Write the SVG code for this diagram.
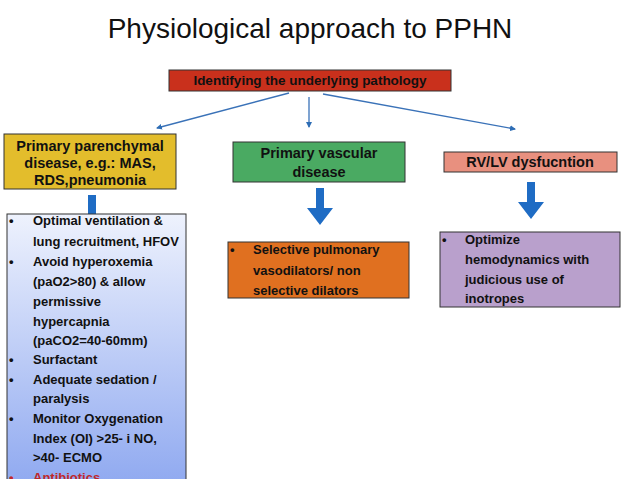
<svg xmlns="http://www.w3.org/2000/svg" width="638" height="479" viewBox="0 0 638 479">
<defs>
<linearGradient id="g" x1="0" y1="0" x2="0" y2="1"><stop offset="0" stop-color="#eef2fd"/><stop offset="1" stop-color="#8ea8f0"/></linearGradient>
<marker id="m" markerWidth="6" markerHeight="6" refX="5" refY="3" orient="auto" markerUnits="userSpaceOnUse"><path d="M0,0 L6,3 L0,6 z" fill="#2e6db5"/></marker>
</defs>
<style>
text{font-family:"Liberation Sans",Arial,sans-serif;font-weight:bold;fill:#111}
.b{stroke:#333;stroke-width:1}
.t{font-size:13px}
.h{font-size:14.5px}
.c{stroke:#3a72b8;stroke-width:1.3;fill:none}
.ba{fill:#1f6cc4}
</style>
<rect width="638" height="479" fill="#fff"/>
<text x="310" y="38" text-anchor="middle" style="font-weight:normal;font-size:28px">Physiological approach to PPHN</text>
<g id="root"><rect class="b" x="169" y="70" width="282" height="21" fill="#c9301c"/><text x="310" y="85" text-anchor="middle" class="t" style="font-size:13.5px">Identifying the underlying pathology</text></g>
<g id="connectors">
<line class="c" x1="289" y1="93" x2="157" y2="128" marker-end="url(#m)"/>
<line class="c" x1="309" y1="97" x2="309" y2="127" marker-end="url(#m)"/>
<line class="c" x1="323" y1="94" x2="515" y2="129" marker-end="url(#m)"/>
<rect class="ba" x="88" y="195" width="8" height="20"/>
<path class="ba" d="M316,188 h8 v20 h9 l-13,17 l-13,-17 h9 z"/>
<path class="ba" d="M527,182 h8 v20 h9 l-13,17 l-13,-17 h9 z"/>
</g>
<g id="parenchymal"><rect class="b" x="4" y="134" width="172" height="55" fill="#e3bd2c"/>
<text class="h" text-anchor="middle"><tspan x="90" y="151">Primary parenchymal</tspan><tspan x="90" y="168">disease, e.g.: MAS,</tspan><tspan x="90" y="185">RDS,pneumonia</tspan></text></g>
<g id="vascular"><rect class="b" x="233" y="142" width="172" height="40" fill="#4aaa62"/>
<text class="h" text-anchor="middle"><tspan x="319" y="158">Primary vascular</tspan><tspan x="319" y="177">disease</tspan></text></g>
<g id="rvlv"><rect class="b" x="444" y="152" width="173" height="20" fill="#e8907f"/>
<text class="h" x="530" y="167" text-anchor="middle">RV/LV dysfucntion</text></g>
<g id="list1"><rect class="b" x="7" y="214" width="179" height="275" fill="url(#g)"/>
<text class="t"><tspan x="9" y="225">•</tspan><tspan x="33" y="225">Optimal ventilation &amp;</tspan><tspan x="33" y="246">lung recruitment, HFOV</tspan><tspan x="9" y="266">•</tspan><tspan x="33" y="266">Avoid hyperoxemia</tspan><tspan x="33" y="286">(paO2&gt;80) &amp; allow</tspan><tspan x="33" y="306">permissive</tspan><tspan x="33" y="326">hypercapnia</tspan><tspan x="33" y="345">(paCO2=40-60mm)</tspan><tspan x="9" y="364">•</tspan><tspan x="33" y="364">Surfactant</tspan><tspan x="9" y="384">•</tspan><tspan x="33" y="384">Adequate sedation /</tspan><tspan x="33" y="403">paralysis</tspan><tspan x="9" y="423">•</tspan><tspan x="33" y="423">Monitor Oxygenation</tspan><tspan x="33" y="443">Index (OI) &gt;25- i NO,</tspan><tspan x="33" y="462">&gt;40- ECMO</tspan></text>
<text class="t" style="fill:#c0282a"><tspan x="9" y="482">•</tspan><tspan x="33" y="482">Antibiotics</tspan></text></g>
<g id="list2"><rect class="b" x="228" y="242" width="181" height="56" fill="#e07020"/>
<text class="t"><tspan x="230" y="254">•</tspan><tspan x="253" y="254">Selective pulmonary</tspan><tspan x="253" y="275">vasodilators/ non</tspan><tspan x="253" y="295">selective dilators</tspan></text></g>
<g id="list3"><rect class="b" x="440" y="232" width="180" height="75" fill="#b9a0cc"/>
<text class="t"><tspan x="442" y="244">•</tspan><tspan x="465" y="244">Optimize</tspan><tspan x="465" y="264">hemodynamics with</tspan><tspan x="465" y="284">judicious use of</tspan><tspan x="465" y="303">inotropes</tspan></text></g>
</svg>
